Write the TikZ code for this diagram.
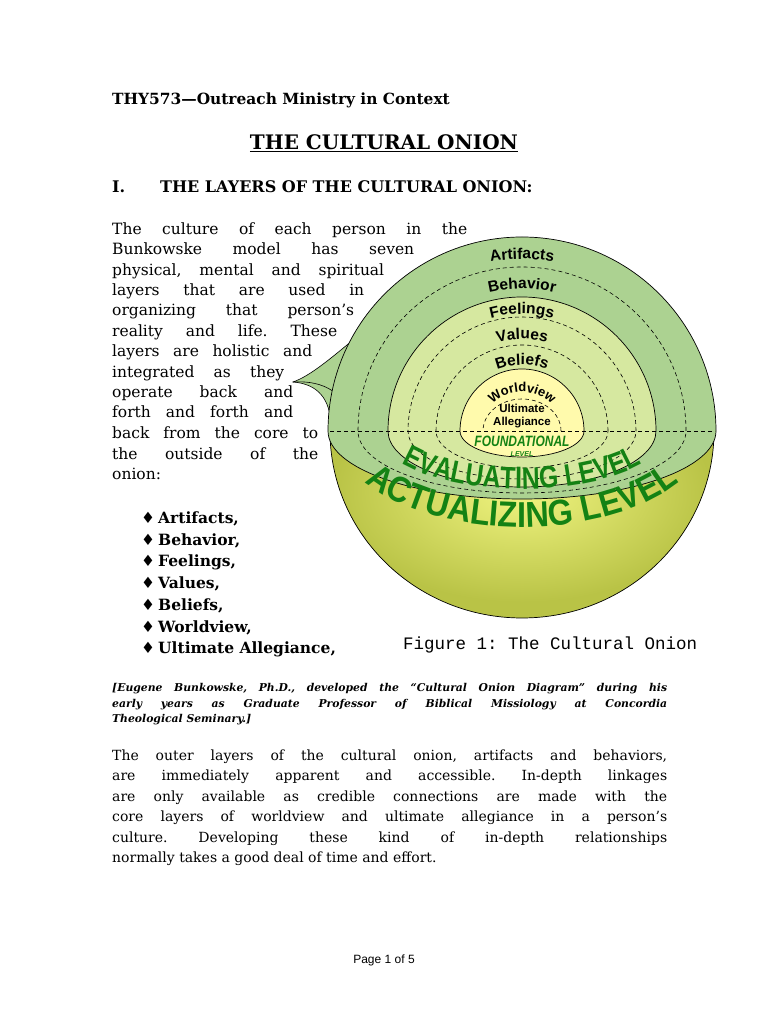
\documentclass[tikz,border=0pt]{standalone}
\usepackage{fontspec}
\setmainfont{DejaVu Serif}
\setsansfont{Liberation Sans}
\setmonofont{Liberation Mono}
\newfontfamily\symfont{DejaVu Sans}
\newfontfamily\lvlfont[FakeStretch=0.8]{Liberation Sans}
\newfontfamily\actfam[FakeStretch=0.9]{Liberation Sans}
\newfontfamily\lblfam[LetterSpace=14]{Liberation Sans}
\usetikzlibrary{decorations.text}
\definecolor{outerband}{RGB}{172,210,145}
\definecolor{midband}{RGB}{214,232,160}
\definecolor{corecol}{RGB}{255,250,172}
\definecolor{spherebase}{RGB}{185,195,70}
\definecolor{spherehi}{RGB}{240,244,128}
\definecolor{lvlgreen}{RGB}{20,130,20}
\newcommand\lbl{\lblfam\bfseries\fontsize{15.5}{15}\selectfont}
\newcommand\actfont{\color{lvlgreen}\actfam\bfseries\fontsize{36}{36}\selectfont}
\newcommand\evalfont{\color{lvlgreen}\lvlfont\bfseries\fontsize{31}{31}\selectfont}
\frenchspacing
\begin{document}
\begin{tikzpicture}[x=1pt,y=1pt,
  ring/.style={draw=black,dash pattern=on 4pt off 3pt,line width=0.6pt},
  body/.style={anchor=base west,inner sep=0pt,font=\fontsize{15.5}{17}\selectfont},
  body2/.style={anchor=base west,inner sep=0pt,font=\fontsize{14}{16}\selectfont},
  bul/.style={anchor=base west,inner sep=0pt,font=\fontsize{15.5}{17}\selectfont\bfseries},
  ital/.style={anchor=base west,inner sep=0pt,font=\fontsize{10.8}{12}\selectfont\bfseries\itshape},
  lbltext/.style={decorate,decoration={text along path,text align=center,text={|\lbl|#1}}}]
\useasboundingbox (0,0) rectangle (768,1024);
\fill[white] (0,0) rectangle (768,1024);
\coordinate (C) at (522,593);
% ---------- text ----------
\node[anchor=base west,inner sep=0pt,font=\fontsize{15.4}{17}\selectfont\bfseries] (hdr) at (112,919) {THY573—Outreach Ministry in Context};
\node[anchor=base,inner sep=0pt,font=\fontsize{20}{22}\selectfont\bfseries] (title) at (384,874) {\underline{THE CULTURAL ONION}};
\node[anchor=base west,inner sep=0pt,font=\fontsize{16}{17}\selectfont\bfseries] (secnum) at (112,831) {I.};
\node[anchor=base west,inner sep=0pt,font=\fontsize{16}{17}\selectfont\bfseries] (sec) at (160,831) {THE LAYERS OF THE CULTURAL ONION:};
\node[body] (p1) at (112,789) {\makebox[355pt][s]{The culture of each person in the}};
\node[body] (p2) at (112,769) {\makebox[302pt][s]{Bunkowske model has seven}};
\node[body] (p3) at (112,748) {\makebox[272pt][s]{physical, mental and spiritual}};
\node[body] (p4) at (112,728) {\makebox[252pt][s]{layers that are used in}};
\node[body] (p5) at (112,708) {\makebox[242pt][s]{organizing that person’s}};
\node[body] (p6) at (112,687) {\makebox[225pt][s]{reality and life. These}};
\node[body] (p7) at (112,667) {\makebox[200pt][s]{layers are holistic and}};
\node[body] (p8) at (112,646) {\makebox[172pt][s]{integrated as they}};
\node[body] (p9) at (112,626) {\makebox[181pt][s]{operate back and}};
\node[body] (p10) at (112,606) {\makebox[181pt][s]{forth and forth and}};
\node[body] (p11) at (112,585) {\makebox[206pt][s]{back from the core to}};
\node[body] (p12) at (112,564) {\makebox[206pt][s]{the outside of the}};
\node[body] (p13) at (112,544) {onion:};
\foreach \y/\t [count=\i] in {500/Artifacts,478/Behavior,457/Feelings,435/Values,413/Beliefs,391/Worldview,370/Ultimate Allegiance}{
  \node[bul] (bd\i) at (141,\y) {{\symfont ♦}};
  \node[bul] (bt\i) at (158,\y) {\t,};
}
\node[ital] (i1) at (112,332) {\makebox[555pt][s]{[Eugene Bunkowske, Ph.D., developed the “Cultural Onion Diagram” during his}};
\node[ital] (i2) at (112,316) {\makebox[555pt][s]{early years as Graduate Professor of Biblical Missiology at Concordia}};
\node[ital] (i3) at (112,301) {Theological Seminary.]};
\node[body2] (q1) at (112,263) {\makebox[555pt][s]{The outer layers of the cultural onion, artifacts and behaviors,}};
\node[body2] (q2) at (112,243) {\makebox[555pt][s]{are immediately apparent and accessible. In-depth linkages}};
\node[body2] (q3) at (112,222) {\makebox[555pt][s]{are only available as credible connections are made with the}};
\node[body2] (q4) at (112,202) {\makebox[555pt][s]{core layers of worldview and ultimate allegiance in a person’s}};
\node[body2] (q5) at (112,181) {\makebox[555pt][s]{culture. Developing these kind of in-depth relationships}};
\node[body2] (q6) at (112,161) {normally takes a good deal of time and effort.};
\node[anchor=base west,inner sep=0pt,font=\ttfamily\fontsize{17.5}{18}\selectfont] (cap) at (403,374) {Figure 1: The Cultural Onion};
\node[anchor=base,inner sep=0pt,font=\sffamily\fontsize{12}{14}\selectfont] (pg) at (384,60) {Page 1 of 5};
% ---------- sphere ----------
\fill[spherebase] (C) ellipse[x radius=192,y radius=187];
\begin{scope}
\clip (C) ellipse[x radius=192,y radius=187];
\shade[inner color=spherehi,outer color=spherebase] (522,532) ellipse[x radius=190,y radius=110];
\end{scope}
\draw[line width=0.7pt] (C) ellipse[x radius=192,y radius=187];
% ---------- peeled flap ----------
\filldraw[fill=outerband,line width=0.6pt] (353,684) .. controls (330,665) and (310,648) .. (293,642)
  .. controls (318,640) and (330,625) .. (331,599) -- (352,599) .. controls (352,640) and (350,665) .. (353,684);
\draw[line width=0.6pt] (293,642) .. controls (325,644) and (345,630) .. (352,604);
\fill[black!35] (331,599) rectangle (352,593);
% ---------- faces ----------
\filldraw[fill=outerband,line width=0.7pt] (716,593) arc (0:180:194) arc (180:360:194 and 68) -- cycle;
\draw[ring] (686,593) arc (0:180:164) arc (180:360:164 and 62);
\filldraw[fill=midband,line width=0.7pt] (656,593) arc (0:180:134) arc (180:360:134 and 56) -- cycle;
\draw[ring] (636,593) arc (0:180:114) arc (180:360:114 and 48);
\draw[ring] (608,593) arc (0:180:86) arc (180:360:86 and 37);
\filldraw[fill=corecol,line width=0.7pt] (584,593) arc (0:180:62) arc (180:360:62 and 26) -- cycle;
\draw[ring] (561,593) arc (0:180:39 and 32);
\coordinate (hl) at (330,593);
\coordinate (hr) at (715,593);
\draw[ring] (hl) -- (hr);
% ---------- layer labels ----------
\path[lbltext=Artifacts] ([shift={(C)}]150:172) arc[start angle=150,end angle=30,radius=172];
\path[lbltext=Behavior] ([shift={(C)}]150:142) arc[start angle=150,end angle=30,radius=142];
\path[lbltext=Feelings] ([shift={(C)}]150:117) arc[start angle=150,end angle=30,radius=117];
\path[lbltext=Values] ([shift={(C)}]150:92) arc[start angle=150,end angle=30,radius=92];
\path[lbltext=Beliefs] ([shift={(C)}]160:66) arc[start angle=160,end angle=20,radius=66];
\path[decorate,decoration={text along path,text align=center,text={|\sffamily\bfseries\fontsize{13}{13}\selectfont|Worldview}}] (522,590) ++(160:42) arc[start angle=160,end angle=20,radius=42];
\node[inner sep=0pt,font=\sffamily\bfseries\fontsize{11.5}{13}\selectfont] (ult) at (522,616) {Ultimate};
\node[inner sep=0pt,font=\sffamily\bfseries\fontsize{11.5}{13}\selectfont] (alg) at (522,601) {Allegiance};
\node[inner sep=0pt,font=\lvlfont\bfseries\itshape\fontsize{15}{15}\selectfont,text=lvlgreen] (fnd) at (522,583) {FOUNDATIONAL};
\node[inner sep=0pt,font=\sffamily\bfseries\itshape\fontsize{7}{7}\selectfont,text=lvlgreen] (lvl) at (522,570) {LEVEL};
\path[decorate,decoration={text along path,text align=center,text={|\evalfont|EVALUATING LEVEL}}] ([shift={(C)}]{208}:{145 and 58}) arc[start angle=208,end angle=332,x radius=145,y radius=58];
\path[decorate,decoration={text along path,text align=center,text={|\actfont|ACTUALIZING LEVEL}}] ([shift={(C)}]{196}:{185 and 96}) arc[start angle=196,end angle=344,x radius=185,y radius=96];
\end{tikzpicture}
\end{document}
